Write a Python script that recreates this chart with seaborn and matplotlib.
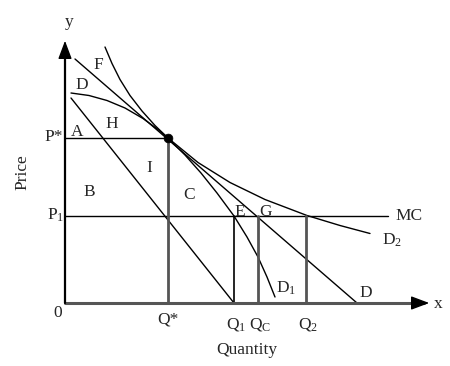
import matplotlib
matplotlib.use("Agg")
import matplotlib.pyplot as plt
import seaborn as sns
import pandas as pd

# ---- data (diagram units, origin at (0, 0)) ----
p_star = 165
p_1 = 87
q_star = 103
q_1 = 169
q_c = 193
q_2 = 241
mc_end = 323
x_axis_end = 367
y_axis_end = 265

# straight demand D
d_x = [10, 292]
d_y = [244, 0]
# straight marginal line (ends at Q1)
mr_x = [6, 169]
mr_y = [205, 0]
# curved demand D1 (concave)
d1_x = [6, 24, 42, 60, 78, 93, 103, 120, 136, 152, 169, 182, 193, 202, 210]
d1_y = [210, 207.5, 202.5, 195, 184.5, 173.5, 165, 148, 130, 110, 87, 66, 46, 26, 6]
# curved demand D2 (convex)
d2_x = [40, 47, 55, 65, 77, 90, 103, 133, 165, 200, 242, 275, 305]
d2_y = [256, 239.5, 223.5, 207.5, 192, 177.5, 165, 140.5, 120.5, 103.5, 87.5, 77.5, 69.5]

region_labels = ["A", "H", "F", "D", "I", "B", "C", "E", "G", "MC", "D"]
region_x = [12, 47, 33, 17, 84, 24, 124, 175, 201, 344, 301]
region_y = [171, 179, 238, 218, 135, 111, 108, 91, 91, 87, 10]

sns.set_style("white")
plt.rcParams["font.family"] = ["Liberation Serif", "DejaVu Serif"]
plt.rcParams["mathtext.fontset"] = "custom"
plt.rcParams["mathtext.rm"] = "Liberation Serif"
plt.rcParams["mathtext.it"] = "Liberation Serif"
plt.rcParams["mathtext.default"] = "regular"

fig = plt.figure(figsize=(4.5, 3.66), dpi=100)
ax = fig.add_axes([0, 0, 1, 1])
ax.set_xlim(-65, 385)
ax.set_ylim(-63, 303)
ax.axis("off")

lw = 1.0
grey = "#555555"

def line(xs, ys, color="black", width=lw, z=2):
    df = pd.DataFrame({"x": xs, "y": ys})
    sns.lineplot(data=df, x="x", y="y", sort=False, estimator=None, ax=ax,
                 color=color, linewidth=width, zorder=z)

# curves
line(d_x, d_y)
line(mr_x, mr_y)
line(d1_x, d1_y)
line(d2_x, d2_y)
# horizontals
line([0, q_star], [p_star, p_star])
line([0, mc_end], [p_1, p_1])
# verticals
line([q_star, q_star], [0, p_star], color=grey, width=2.0)
line([q_1, q_1], [0, p_1], color="black", width=1.2)
line([q_c, q_c], [0, p_1], color=grey, width=2.0)
line([q_2, q_2], [0, p_1], color=grey, width=2.0)

# axes with arrows
line([0, x_axis_end - 8], [0, 0], color=grey, width=2.2, z=3)
ax.annotate("", xy=(x_axis_end, 0), xytext=(x_axis_end - 12, 0),
            arrowprops=dict(arrowstyle="-|>,head_length=0.8,head_width=0.3",
                            color="black", lw=1.0, mutation_scale=14))
line([0, 0], [0, y_axis_end - 8], color="black", width=1.6, z=3)
ax.annotate("", xy=(0, y_axis_end), xytext=(0, y_axis_end - 12),
            arrowprops=dict(arrowstyle="-|>,head_length=0.8,head_width=0.3",
                            color="black", lw=1.0, mutation_scale=14))

# tangency point
sns.scatterplot(x=[q_star], y=[p_star], ax=ax, color="black", s=40, zorder=5,
                edgecolor="black")

fs = 12.5
for lab, x, y in zip(region_labels, region_x, region_y):
    ax.text(x, y, lab, fontsize=fs, ha="center", va="center")
ax.text(317, 63, "D$_{2}$", fontsize=fs, ha="left", va="center")
ax.text(211, 15, "D$_{1}$", fontsize=fs, ha="left", va="center")

# axis texts
ax.text(4, 281, "y", fontsize=fs, ha="center", va="center")
ax.text(373, -1, "x", fontsize=fs, ha="center", va="center")
ax.text(-7, -10, "0", fontsize=fs, ha="center", va="center")
ax.text(-2, p_star + 1, "P*", fontsize=fs, ha="right", va="center")
ax.text(-1, p_1 + 1, "P$_{1}$", fontsize=fs, ha="right", va="center")
ax.text(q_star, -9, "Q*", fontsize=fs, ha="center", va="top")
ax.text(q_1 + 2, -13, "Q$_{1}$", fontsize=fs, ha="center", va="top")
ax.text(q_c + 2, -13, "Q$_{C}$", fontsize=fs, ha="center", va="top")
ax.text(q_2 + 2, -13, "Q$_{2}$", fontsize=fs, ha="center", va="top")
ax.text(182, -47, "Quantity", fontsize=fs, ha="center", va="center")
ax.text(-43, 131, "Price", fontsize=fs, ha="center", va="center", rotation=90)

fig.savefig("out.png", dpi=100)
